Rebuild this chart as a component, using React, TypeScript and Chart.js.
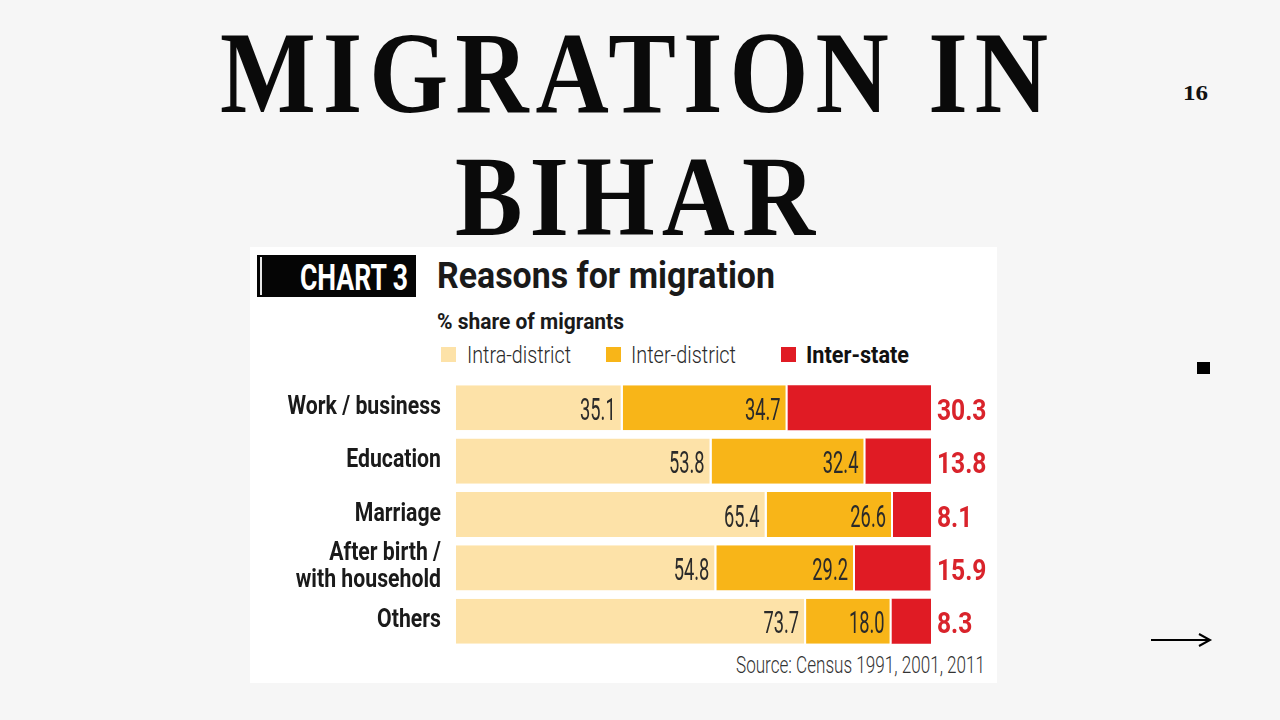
import React, { useEffect, useLayoutEffect, useRef } from "react";
import { Chart, registerables } from "chart.js";

Chart.register(...registerables);

// ---- data ----
const categories: (string | string[])[] = [
  "Work / business",
  "Education",
  "Marriage",
  ["After birth /", "with household"],
  "Others",
];
const seriesNames = ["Intra-district", "Inter-district", "Inter-state"];
const intraDistrict = [35.1, 53.8, 65.4, 54.8, 73.7];
const interDistrict = [34.7, 32.4, 26.6, 29.2, 18.0];
const interState = [30.3, 13.8, 8.1, 15.9, 8.3];
const seriesColors = ["#fde2a8", "#f8b518", "#e01b24"];

const SANS = "Roboto, 'Open Sans', sans-serif";
const SERIF = "'Liberation Serif', 'DejaVu Serif', serif";

function drawScaled(ctx: CanvasRenderingContext2D, text: string, x: number, y: number, sx: number) {
  ctx.save();
  ctx.translate(x, y);
  ctx.scale(sx, 1);
  ctx.fillText(text, 0, 0);
  ctx.restore();
}

const labelPlugin = {
  id: "segLabels",
  afterDatasetsDraw(chart: any) {
    const ctx: CanvasRenderingContext2D = chart.ctx;
    const area = chart.chartArea;
    const yScale = chart.scales.y;
    ctx.save();
    ctx.textBaseline = "alphabetic";
    // category labels
    ctx.fillStyle = "#1a1a1a";
    ctx.font = `700 25px ${SANS}`;
    ctx.textAlign = "right";
    (chart.data.labels as (string | string[])[]).forEach((lab, i) => {
      const lines = Array.isArray(lab) ? lab : [lab];
      const yc = yScale.getPixelForValue(i);
      lines.forEach((ln, j) => {
        const y = yc + 6 + (j - (lines.length - 1) / 2) * 27;
        drawScaled(ctx, ln, area.left - 15, y, 0.85);
      });
    });
    // value labels
    chart.data.datasets.forEach((ds: any, di: number) => {
      const meta = chart.getDatasetMeta(di);
      meta.data.forEach((bar: any, i: number) => {
        const txt = Number(ds.data[i]).toFixed(1);
        if (di < 2) {
          ctx.fillStyle = "#2a2a2a";
          ctx.font = `400 31px ${SANS}`;
          ctx.textAlign = "right";
          drawScaled(ctx, txt, bar.x - 7, bar.y + 12, 0.59);
        } else {
          ctx.fillStyle = "#d9232b";
          ctx.font = `700 30px ${SANS}`;
          ctx.textAlign = "left";
          drawScaled(ctx, txt, area.right + 6, bar.y + 12, 0.82);
        }
      });
    });
    ctx.restore();
  },
};

function FitText(props: {
  left: number;
  baseline: number;
  width: number;
  size: number;
  weight?: number;
  color?: string;
  family?: string;
  spacing?: number;
  children: React.ReactNode;
}) {
  const ref = useRef<HTMLDivElement>(null);
  useLayoutEffect(() => {
    const el = ref.current;
    if (!el) return;
    el.style.transform = "none";
    const w = el.getBoundingClientRect().width - (props.spacing ?? 0);
    if (w > 0) el.style.transform = `scaleX(${props.width / w})`;
  }, []);
  const { left, baseline, size } = props;
  return (
    <div
      ref={ref}
      style={{
        position: "absolute",
        left,
        top: baseline - 0.84 * size,
        fontSize: size,
        lineHeight: `${size}px`,
        fontWeight: props.weight ?? 400,
        color: props.color ?? "#111",
        fontFamily: props.family ?? SANS,
        letterSpacing: props.spacing ? `${props.spacing}px` : undefined,
        whiteSpace: "nowrap",
        transformOrigin: "0 0",
      }}
    >
      {props.children}
    </div>
  );
}

function BarChart() {
  const ref = useRef<HTMLCanvasElement>(null);
  useEffect(() => {
    if (!ref.current) return;
    const values = [intraDistrict, interDistrict, interState];
    const chart = new Chart(ref.current, {
      type: "bar",
      data: {
        labels: categories as any,
        datasets: seriesNames.map((name, i) => ({
          label: name,
          data: values[i],
          backgroundColor: seriesColors[i],
          borderColor: "#ffffff",
          borderWidth: i < 2 ? { left: 0, right: 2, top: 0, bottom: 0 } : 0,
          borderSkipped: false,
          barPercentage: 0.845,
          categoryPercentage: 1,
        })),
      },
      options: {
        indexAxis: "y",
        animation: false,
        responsive: false,
        maintainAspectRatio: false,
        layout: { padding: { left: 0, right: 66, top: 0, bottom: 0 } },
        plugins: {
          legend: { display: false },
          tooltip: { enabled: false },
          title: { display: false },
        },
        scales: {
          x: { stacked: true, min: 0, max: 100, display: false },
          y: {
            stacked: true,
            grid: { display: false, drawTicks: false },
            border: { display: false },
            ticks: { display: false },
            afterFit: (s: any) => {
              s.width = 206;
            },
          },
        },
      } as any,
      plugins: [labelPlugin],
    });
    return () => chart.destroy();
  }, []);
  return (
    <canvas
      ref={ref}
      width={747}
      height={267}
      style={{ position: "absolute", left: 250, top: 381, width: 747, height: 267 }}
    />
  );
}

export default function App() {
  return (
    <div
      style={{
        position: "fixed",
        left: 0,
        top: 0,
        width: 1280,
        height: 720,
        background: "#f6f6f6",
        overflow: "hidden",
      }}
    >
      <FitText left={220} baseline={112} width={828} size={116} weight={700} family={SERIF} color="#0a0a0a" spacing={8}>
        MIGRATION IN
      </FitText>
      <FitText left={455} baseline={236} width={360} size={114} weight={700} family={SERIF} color="#0a0a0a" spacing={8}>
        BIHAR
      </FitText>
      <FitText left={1183} baseline={100} width={25} size={22} weight={700} family={SERIF} color="#111">
        16
      </FitText>
      <div style={{ position: "absolute", left: 1197, top: 362, width: 13, height: 12, background: "#000" }} />
      <svg style={{ position: "absolute", left: 1148, top: 630 }} width={66} height={20}>
        <line x1={3} y1={10} x2={62} y2={10} stroke="#000" strokeWidth={2} />
        <polyline points="51,4 62,10 51,16" fill="none" stroke="#000" strokeWidth={2} />
      </svg>

      <div style={{ position: "absolute", left: 250, top: 247, width: 747, height: 436, background: "#ffffff" }} />
      <div style={{ position: "absolute", left: 257, top: 255, width: 159, height: 42, background: "#050505" }} />
      <div style={{ position: "absolute", left: 260, top: 257, width: 2, height: 38, background: "#e8e8e8" }} />
      <FitText left={300} baseline={290} width={108} size={37} weight={700} color="#ffffff">
        CHART 3
      </FitText>
      <FitText left={437} baseline={288} width={338} size={37} weight={700} color="#1a1a1a">
        Reasons for migration
      </FitText>
      <FitText left={437} baseline={329} width={187} size={22} weight={700} color="#1a1a1a">
        % share of migrants
      </FitText>

      <div style={{ position: "absolute", left: 441, top: 347, width: 15, height: 15, background: seriesColors[0] }} />
      <FitText left={467} baseline={363} width={104} size={23} weight={300} color="#2a2a2a">
        {seriesNames[0]}
      </FitText>
      <div style={{ position: "absolute", left: 606, top: 347, width: 15, height: 15, background: seriesColors[1] }} />
      <FitText left={631} baseline={363} width={105} size={23} weight={300} color="#2a2a2a">
        {seriesNames[1]}
      </FitText>
      <div style={{ position: "absolute", left: 781, top: 347, width: 15, height: 15, background: seriesColors[2] }} />
      <FitText left={806} baseline={363} width={103} size={23} weight={700} color="#111">
        {seriesNames[2]}
      </FitText>

      <BarChart />

      <FitText left={736} baseline={673} width={249} size={24} weight={300} color="#333">
        Source: Census 1991, 2001, 2011
      </FitText>
    </div>
  );
}
